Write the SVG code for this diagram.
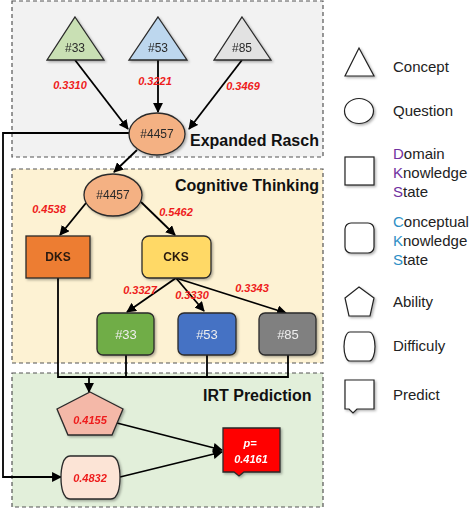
<svg xmlns="http://www.w3.org/2000/svg" width="474" height="510" viewBox="0 0 474 510">
<defs>
<style>
.panel{stroke:#555;stroke-width:1.2;stroke-dasharray:4 3}
.node{stroke:#2a2a2a;stroke-width:1.3}
.lg{fill:#fff;stroke:#222;stroke-width:1.2}
.edge{fill:none;stroke:#000;stroke-width:1.8}
.w{font-family:"Liberation Sans",Arial,sans-serif;font-weight:bold;font-style:italic;font-size:11px;fill:#ee1c1c;text-anchor:middle}
.t{font-family:"Liberation Sans",Arial,sans-serif;font-size:12px;fill:#2a2a2a;text-anchor:middle}
.tb{font-family:"Liberation Sans",Arial,sans-serif;font-size:12px;font-weight:bold;fill:#2a1a10;text-anchor:middle}
.tw{font-family:"Liberation Sans",Arial,sans-serif;font-size:13px;fill:#eee;text-anchor:middle}
.title{font-family:"Liberation Sans",Arial,sans-serif;font-size:16px;font-weight:bold;fill:#111}
.leg{font-family:"Liberation Sans",Arial,sans-serif;font-size:15px;fill:#222}
</style>
<marker id="ah" viewBox="0 0 10 10" refX="9" refY="5" markerWidth="5.5" markerHeight="5.5" markerUnits="strokeWidth" orient="auto">
<path d="M0,0 L10,5 L0,10 z" fill="#000"/>
</marker>
<filter id="sh" x="-20%" y="-20%" width="150%" height="150%">
<feDropShadow dx="1.5" dy="1.5" stdDeviation="1.2" flood-color="#000" flood-opacity="0.3"/>
</filter>
</defs>

<g id="panels">
<rect class="panel" x="12" y="1" width="311" height="156" fill="#f2f2f2"/>
<rect class="panel" x="12" y="169" width="311" height="194" fill="#fdf2d3"/>
<rect class="panel" x="12" y="373" width="311" height="134" fill="#e2efda"/>
<text class="title" x="190" y="146">Expanded Rasch</text>
<text class="title" x="175" y="191">Cognitive Thinking</text>
<text class="title" x="203" y="401">IRT Prediction</text>
</g>

<g id="connectors">
<line class="edge" x1="75" y1="60" x2="128" y2="129" marker-end="url(#ah)"/>
<line class="edge" x1="158" y1="60" x2="158" y2="112" marker-end="url(#ah)"/>
<line class="edge" x1="242" y1="60" x2="189" y2="129" marker-end="url(#ah)"/>
<line class="edge" x1="137" y1="150" x2="114" y2="172" marker-end="url(#ah)"/>
<line class="edge" x1="86" y1="203" x2="60" y2="235" marker-end="url(#ah)"/>
<line class="edge" x1="141" y1="202" x2="175" y2="235" marker-end="url(#ah)"/>
<line class="edge" x1="176" y1="278" x2="127" y2="312" marker-end="url(#ah)"/>
<line class="edge" x1="176" y1="278" x2="204" y2="311" marker-end="url(#ah)"/>
<line class="edge" x1="176" y1="278" x2="286" y2="313" marker-end="url(#ah)"/>
<polyline class="edge" points="58,278 58,377 288,377 288,355"/>
<line class="edge" x1="126" y1="355" x2="126" y2="377"/>
<line class="edge" x1="207" y1="355" x2="207" y2="377"/>
<line class="edge" x1="89" y1="377" x2="89" y2="392" marker-end="url(#ah)"/>
<polyline class="edge" points="129,133 3,133 3,477 61,477" stroke-width="2.2" marker-end="url(#ah)"/>
<line class="edge" x1="117" y1="423" x2="222" y2="450" marker-end="url(#ah)"/>
<line class="edge" x1="120" y1="477" x2="222" y2="452" marker-end="url(#ah)"/>
<text class="w" x="70" y="89">0.3310</text>
<text class="w" x="155" y="85">0.3221</text>
<text class="w" x="243" y="90">0.3469</text>
<text class="w" x="49" y="213">0.4538</text>
<text class="w" x="176" y="216">0.5462</text>
<text class="w" x="140" y="294">0.3327</text>
<text class="w" x="192" y="299">0.3330</text>
<text class="w" x="252" y="292">0.3343</text>
</g>

<g id="c33" filter="url(#sh)">
<polygon class="node" points="75,17 104,60 47,60" fill="#c9e0b4"/>
<text class="t" x="75" y="52">#33</text>
</g>
<g id="c53" filter="url(#sh)">
<polygon class="node" points="158,17 187,60 129,60" fill="#bdd7ee"/>
<text class="t" x="158" y="52">#53</text>
</g>
<g id="c85" filter="url(#sh)">
<polygon class="node" points="242,17 271,60 214,60" fill="#e2e2e2"/>
<text class="t" x="242" y="52">#85</text>
</g>

<g id="q1" filter="url(#sh)">
<ellipse class="node" cx="157" cy="134" rx="28" ry="21" fill="#f4b183"/>
<text class="t" x="157" y="138">#4457</text>
</g>
<g id="q2" filter="url(#sh)">
<ellipse class="node" cx="113" cy="195" rx="29" ry="21" fill="#f4b183"/>
<text class="t" x="113" y="199">#4457</text>
</g>

<g id="dks" filter="url(#sh)">
<rect class="node" x="26" y="236" width="64" height="42" fill="#ed7d31"/>
<text class="tb" x="58" y="261">DKS</text>
</g>
<g id="cks" filter="url(#sh)">
<rect class="node" x="142" y="236" width="69" height="42" rx="7" fill="#ffd966"/>
<text class="tb" x="176" y="261">CKS</text>
</g>

<g id="k33" filter="url(#sh)">
<rect class="node" x="97" y="313" width="57" height="42" rx="6" fill="#70ad47"/>
<text class="tw" x="126" y="339">#33</text>
</g>
<g id="k53" filter="url(#sh)">
<rect class="node" x="178" y="313" width="58" height="42" rx="6" fill="#4472c4"/>
<text class="tw" x="207" y="339">#53</text>
</g>
<g id="k85" filter="url(#sh)">
<rect class="node" x="259" y="313" width="57" height="42" rx="6" fill="#808080"/>
<text class="tw" x="288" y="339">#85</text>
</g>

<g id="ability" filter="url(#sh)">
<polygon class="node" points="90,392 123,409 112,435 68,435 57,409" fill="#f4b8a8"/>
<text class="w" x="90" y="424" font-size="12">0.4155</text>
</g>
<g id="difficulty" filter="url(#sh)">
<path class="node" d="M70,456 H111 C118,456 120,468 120,477.5 C120,487 118,499 111,499 H70 C63,499 61,487 61,477.5 C61,468 63,456 70,456 Z" fill="#fce4d6"/>
<text class="w" x="90" y="482" font-size="12">0.4832</text>
</g>
<g id="predict" filter="url(#sh)">
<path class="node" d="M223,428 H280 V472 H244 L239,476 L234,472 H223 Z" fill="#ff0000"/>
<text class="w" x="250" y="447" style="fill:#fff">p=</text>
<text class="w" x="251" y="463" style="fill:#fff">0.4161</text>
</g>

<g id="legend">
<g id="lg-concept">
<polygon class="lg" filter="url(#sh)" points="359,48 374,76 345,76"/>
<text class="leg" x="393" y="72">Concept</text>
</g>
<g id="lg-question">
<ellipse class="lg" filter="url(#sh)" cx="359" cy="111" rx="14.5" ry="12.5"/>
<text class="leg" x="393" y="116">Question</text>
</g>
<g id="lg-dks">
<rect class="lg" filter="url(#sh)" x="345" y="157" width="29" height="28"/>
<text class="leg" x="393" y="159"><tspan fill="#7030a0">D</tspan>omain</text>
<text class="leg" x="393" y="178"><tspan fill="#7030a0">K</tspan>nowledge</text>
<text class="leg" x="393" y="197"><tspan fill="#7030a0">S</tspan>tate</text>
</g>
<g id="lg-cks">
<rect class="lg" filter="url(#sh)" x="345" y="223" width="29" height="30" rx="6"/>
<text class="leg" x="393" y="227"><tspan fill="#2e8fc6">C</tspan>onceptual</text>
<text class="leg" x="393" y="246"><tspan fill="#2e8fc6">K</tspan>nowledge</text>
<text class="leg" x="393" y="265"><tspan fill="#2e8fc6">S</tspan>tate</text>
</g>
<g id="lg-ability">
<polygon class="lg" filter="url(#sh)" points="359,287 374,298 370,316 349,316 345,298"/>
<text class="leg" x="393" y="307">Ability</text>
</g>
<g id="lg-difficulty">
<path class="lg" filter="url(#sh)" d="M350,332 H369 C373,332 375,340 375,346.5 C375,353 373,361 369,361 H350 C346,361 344,353 344,346.5 C344,340 346,332 350,332 Z"/>
<text class="leg" x="393" y="351">Difficuly</text>
</g>
<g id="lg-predict">
<path class="lg" filter="url(#sh)" d="M345,380 H374 V409 H357 L353,413 L349,409 H345 Z"/>
<text class="leg" x="393" y="400">Predict</text>
</g>
</g>
</svg>
